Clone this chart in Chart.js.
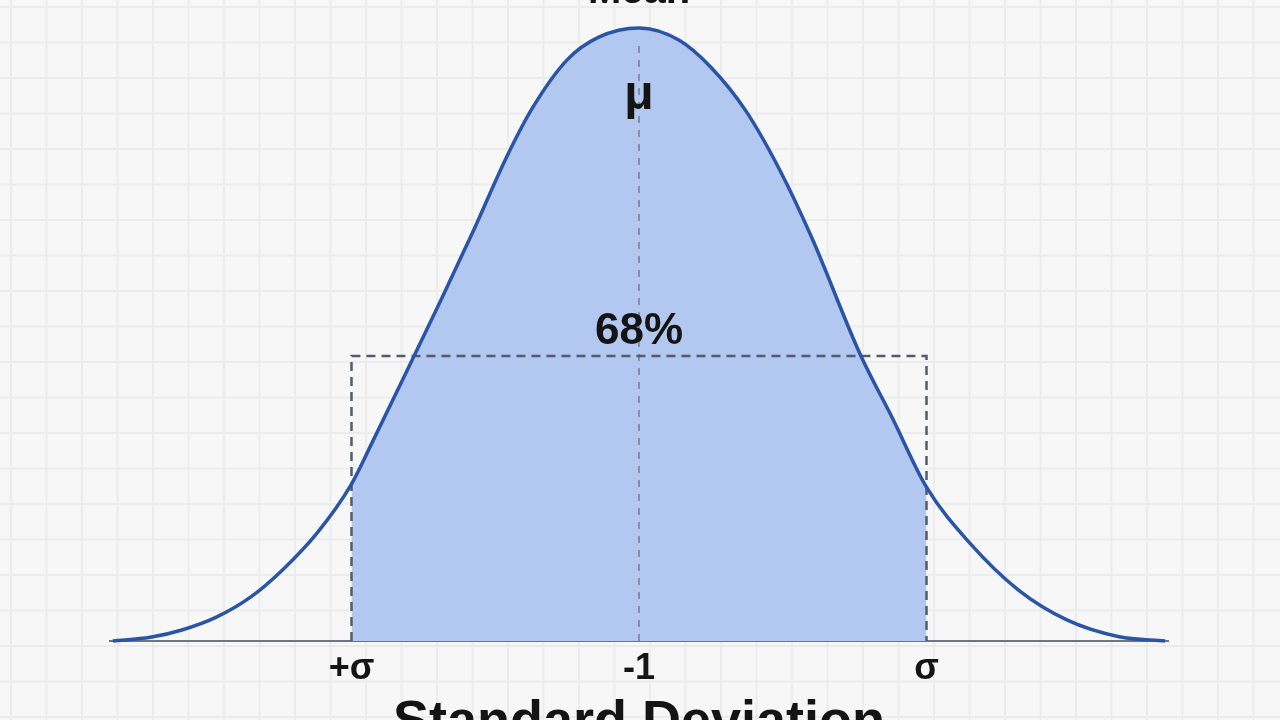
<!DOCTYPE html>
<html lang="en">
<head>
    <meta charset="UTF-8">
    <title>Standard Deviation</title>
    <script src="https://cdnjs.cloudflare.com/ajax/libs/Chart.js/4.4.1/chart.umd.min.js"></script>
    <style>
        /* graph paper background */
        body {
            margin: 0;
            width: 1280px;
            height: 720px;
            overflow: hidden;
            position: relative;
            background-color: #f7f7f7;
            background-image:
                linear-gradient(to right, #ececec 1.5px, transparent 1.5px),
                linear-gradient(to bottom, #ececec 1.5px, transparent 1.5px);
            background-size: 35.5px 35.5px;
            background-position: 10px 6px;
            font-family: 'Liberation Sans', Arial, sans-serif;
        }

        .wrap {
            position: absolute;
            left: 0;
            top: -40px;
            width: 1280px;
            height: 802px;
        }
    </style>
</head>
<body>

    <div class="wrap">
        <canvas id="bell"></canvas>
    </div>

    <script>
        // curve: x in sigma units, y relative to peak height
        const curveX = [-1.83, -1.70, -1.59, -1.47, -1.35, -1.24, -1.12, -1.00, -0.93, -0.81,
                        -0.69, -0.58, -0.46, -0.37, -0.25, -0.14, 0, 0.14, 0.25, 0.37,
                        0.49, 0.60, 0.77, 0.88, 1.00, 1.15, 1.32, 1.49, 1.67, 1.83];
        const curveY = [0, 0.006, 0.018, 0.039, 0.072, 0.116, 0.176, 0.256, 0.322, 0.438,
                        0.555, 0.665, 0.790, 0.870, 0.948, 0.985, 1.0, 0.980, 0.936, 0.866,
                        0.768, 0.659, 0.467, 0.365, 0.251, 0.160, 0.083, 0.034, 0.007, 0];

        // shaded band (68%) and its dashed box
        const bandFrom = -1;
        const bandTo = 1;
        const boxHeight = 0.465;
        const meanLineTop = 0.98;

        const tickValues = [-1, 0, 1];
        const tickLabels = ['+σ', '-1', 'σ'];

        // text inside the plot: [text, x, y, size]
        const notes = [
            ['μ', 0, 0.889, 48],
            ['68%', 0, 0.504, 44]
        ];

        const curve = curveX.map((x, i) => ({ x: x, y: curveY[i] }));
        const band = curve.filter(p => p.x >= bandFrom && p.x <= bandTo);

        const notesPlugin = {
            id: 'notes',
            afterDatasetsDraw(chart) {
                const ctx = chart.ctx;
                const xs = chart.scales.x, ys = chart.scales.y;
                ctx.save();
                ctx.fillStyle = '#141414';
                ctx.textAlign = 'center';
                ctx.textBaseline = 'middle';
                notes.forEach(n => {
                    ctx.font = 'bold ' + n[3] + 'px "Liberation Sans", Arial, sans-serif';
                    ctx.fillText(n[0], xs.getPixelForValue(n[1]), ys.getPixelForValue(n[2]));
                });
                ctx.restore();
            }
        };

        const ctx = document.getElementById('bell').getContext('2d');
        const bellChart = new Chart(ctx, {
            type: 'line',
            data: {
                datasets: [
                    {
                        // shaded 68% region
                        data: band,
                        borderWidth: 0,
                        backgroundColor: '#b2c8f0',
                        fill: 'origin',
                        pointRadius: 0,
                        cubicInterpolationMode: 'monotone',
                        order: 5
                    },
                    {
                        // mean line
                        data: [{ x: 0, y: 0 }, { x: 0, y: meanLineTop }],
                        borderColor: '#8591a3',
                        borderWidth: 2,
                        borderDash: [7, 7],
                        pointRadius: 0,
                        fill: false,
                        order: 4
                    },
                    {
                        // dashed box at +/- sigma
                        data: [
                            { x: bandFrom, y: 0 }, { x: bandFrom, y: boxHeight },
                            { x: bandTo, y: boxHeight }, { x: bandTo, y: 0 }
                        ],
                        borderColor: '#535c6c',
                        borderWidth: 2.5,
                        borderDash: [9, 6],
                        pointRadius: 0,
                        fill: false,
                        order: 3
                    },
                    {
                        // bell curve
                        data: curve,
                        borderColor: '#2a55a6',
                        borderWidth: 3.5,
                        pointRadius: 0,
                        fill: false,
                        cubicInterpolationMode: 'monotone',
                        clip: false,
                        order: 1
                    }
                ]
            },
            options: {
                responsive: true,
                maintainAspectRatio: false,
                animation: false,
                layout: { padding: { left: 110, right: 112, top: 0, bottom: 6 } },
                plugins: {
                    legend: { display: false },
                    tooltip: { enabled: false },
                    title: {
                        display: true,
                        text: 'Mean',
                        color: '#141414',
                        font: { family: '"Liberation Sans", Arial, sans-serif', size: 40, weight: 'bold' },
                        padding: { top: 8, bottom: 12 }
                    }
                },
                scales: {
                    x: {
                        type: 'linear',
                        min: -1.84,
                        max: 1.84,
                        afterBuildTicks: axis => { axis.ticks = tickValues.map(v => ({ value: v })); },
                        grid: { display: false, drawTicks: false, tickLength: 0 },
                        border: { display: true, color: '#6e7480', width: 2 },
                        ticks: {
                            padding: 6,
                            color: '#141414',
                            font: { family: '"Liberation Sans", Arial, sans-serif', size: 36, weight: 'bold' },
                            maxRotation: 0,
                            autoSkip: false,
                            callback: (v) => tickLabels[tickValues.indexOf(v)]
                        },
                        title: {
                            display: true,
                            text: 'Standard Deviation',
                            color: '#141414',
                            font: { family: '"Liberation Sans", Arial, sans-serif', size: 54, weight: 'bold' },
                            padding: { top: -5, bottom: 0 }
                        }
                    },
                    y: {
                        display: false,
                        min: 0,
                        max: 1
                    }
                }
            },
            plugins: [notesPlugin]
        });
    </script>

</body>
</html>
